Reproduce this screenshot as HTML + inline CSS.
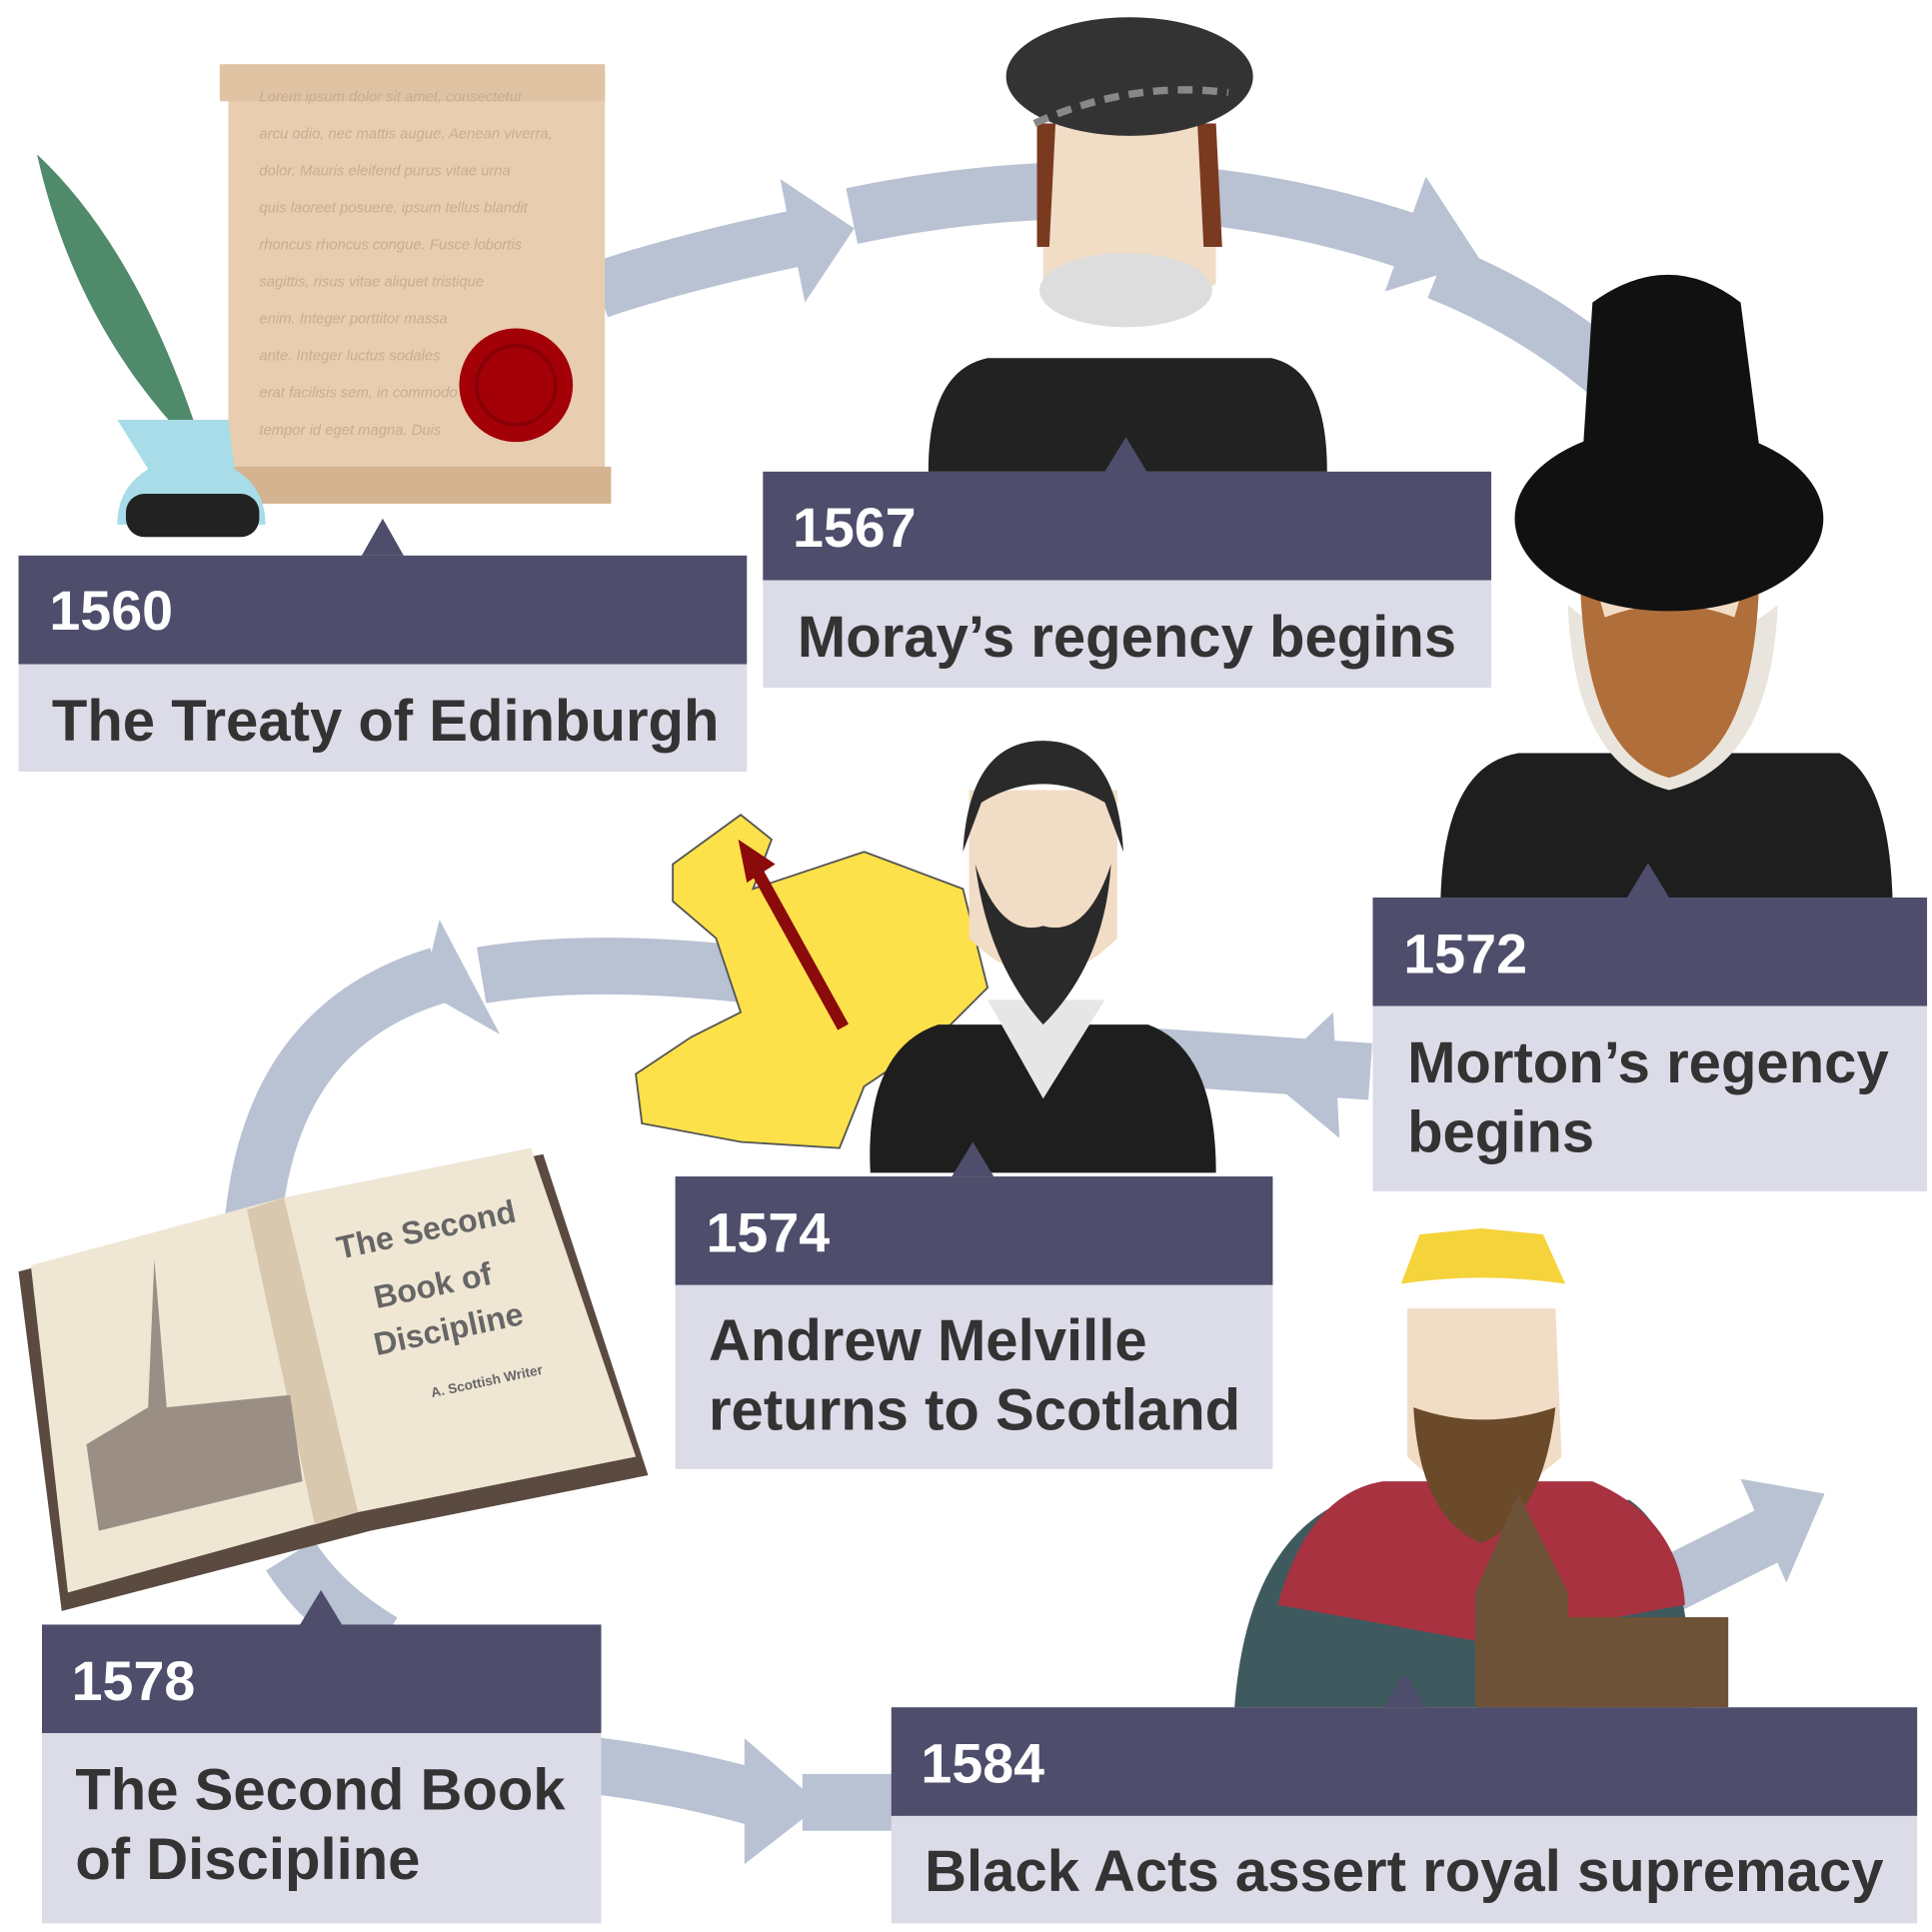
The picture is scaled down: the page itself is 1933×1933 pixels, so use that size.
<!DOCTYPE html>
<html><head><meta charset="utf-8"><style>
html,body{margin:0;padding:0;background:#fff}
svg{display:block}
text{font-family:"Liberation Sans",Arial,sans-serif;font-weight:bold}
.y{fill:#fff;font-size:45px}
.b{fill:#333;font-size:47px}
</style></head><body>
<svg width="1933" height="1933" viewBox="0 0 1565 1565" xmlns="http://www.w3.org/2000/svg">
<g fill="none" stroke="#b8c2d3" stroke-width="46">
<path d="M485 235 Q560 210 660 190"/>
<path d="M690 175 Q930 125 1140 195"/>
<path d="M1165 220 Q1240 250 1300 300"/>
<path d="M1110 868 L920 855"/>
<path d="M610 790 Q480 775 390 790"/>
<path d="M355 790 Q220 830 205 990"/>
<path d="M235 1260 Q260 1300 310 1330"/>
<path d="M480 1430 Q560 1440 625 1460"/>
<path d="M650 1460 L730 1460"/>
<path d="M1340 1290 L1440 1240"/>
</g>
<g fill="#b8c2d3">
<polygon points="632,145 692,185 652,245"/>
<polygon points="1155,143 1200,212 1122,236"/>
<polygon points="1080,820 1025,872 1085,922"/>
<polygon points="356,745 342,802 405,838"/>
<polygon points="603,1408 665,1462 603,1510"/>
<polygon points="1410,1198 1478,1210 1447,1282"/>
</g>
<rect x="185" y="55" width="305" height="350" fill="#e8cdb0"/>
<rect x="180" y="378" width="315" height="30" fill="#d4b390"/>
<rect x="178" y="52" width="312" height="30" fill="#e0c3a3"/>
<g fill="#c9ad90" font-size="12" style="font-family:'Liberation Serif',serif;font-style:italic;font-weight:normal">
<text x="210" y="82" style="font-weight:normal">Lorem ipsum dolor sit amet, consectetur</text>
<text x="210" y="112" style="font-weight:normal">arcu odio, nec mattis augue. Aenean viverra,</text>
<text x="210" y="142" style="font-weight:normal">dolor. Mauris eleifend purus vitae urna</text>
<text x="210" y="172" style="font-weight:normal">quis laoreet posuere, ipsum tellus blandit</text>
<text x="210" y="202" style="font-weight:normal">rhoncus rhoncus congue. Fusce lobortis</text>
<text x="210" y="232" style="font-weight:normal">sagittis, risus vitae aliquet tristique</text>
<text x="210" y="262" style="font-weight:normal">enim. Integer porttitor massa</text>
<text x="210" y="292" style="font-weight:normal">ante. Integer luctus sodales</text>
<text x="210" y="322" style="font-weight:normal">erat facilisis sem, in commodo</text>
<text x="210" y="352" style="font-weight:normal">tempor id eget magna. Duis</text>
</g>
<circle cx="418" cy="312" r="46" fill="#a30008"/>
<circle cx="418" cy="312" r="32" fill="none" stroke="#880006" stroke-width="3"/>
<path d="M30 125 Q110 200 160 350 L150 355 Q60 260 30 125Z" fill="#4f8a6a"/>
<path d="M95 340 L185 340 L190 380 Q215 395 215 425 L95 425 Q95 395 120 380Z" fill="#a7dce8"/>
<rect x="102" y="400" width="108" height="35" rx="15" fill="#222"/>
<!-- Moray -->
<path d="M752 382 Q752 300 800 290 L1030 290 Q1075 300 1075 382Z" fill="#222"/>
<path d="M845 100 L985 100 L985 230 Q912 270 845 230Z" fill="#f1dcc6"/>
<path d="M840 100 L855 100 L850 200 L840 200Z M970 100 L985 100 L990 200 L975 200Z" fill="#7a3a20"/>
<ellipse cx="912" cy="235" rx="70" ry="30" fill="#ddd"/>
<ellipse cx="915" cy="62" rx="100" ry="48" fill="#333"/>
<path d="M838 100 Q915 65 995 75" stroke="#888" stroke-width="6" fill="none" stroke-dasharray="12 8"/>
<!-- Morton -->
<path d="M1167 727 Q1170 620 1230 610 L1490 610 Q1530 630 1533 727Z" fill="#1e1e1e"/>
<path d="M1285 360 L1420 360 L1420 520 Q1352 570 1285 520Z" fill="#f1dcc6"/>
<path d="M1270 490 Q1275 620 1352 640 Q1435 620 1440 490 Q1352 560 1270 490Z" fill="#eae5dc"/>
<path d="M1280 430 L1300 500 Q1352 480 1405 500 L1425 430 Q1430 610 1352 630 Q1275 610 1280 430Z" fill="#b06e3a"/>
<ellipse cx="1352" cy="420" rx="125" ry="75" fill="#111"/>
<path d="M1290 245 Q1352 200 1410 245 L1430 400 L1280 400Z" fill="#111"/>
<!-- map -->
<path d="M545 700 L600 660 L625 680 L610 720 L700 690 L780 720 L800 800 L760 840 L700 880 L680 930 L600 925 L520 910 L515 870 L560 840 L600 820 L580 760 L545 730Z" fill="#fde14a" stroke="#555" stroke-width="1.5"/>
<line x1="683" y1="832" x2="610" y2="700" stroke="#8b0a0a" stroke-width="10"/>
<polygon points="598,680 628,700 605,715" fill="#8b0a0a"/>
<!-- Melville -->
<path d="M705 950 Q700 850 760 830 L930 830 Q985 850 985 950Z" fill="#1e1e1e"/>
<path d="M800 810 L895 810 L845 890Z" fill="#e6e6e6"/>
<path d="M785 640 L905 640 L905 760 Q845 820 785 760Z" fill="#f1dcc6"/>
<path d="M790 700 Q800 780 845 830 Q895 780 900 700 Q880 760 845 750 Q810 760 790 700Z" fill="#2a2a2a"/>
<path d="M780 690 Q785 600 845 600 Q905 600 910 690 L895 650 Q845 620 795 650Z" fill="#2a2a2a"/>
<!-- book -->
<path d="M15 1030 L230 975 L440 935 L525 1195 L300 1240 L50 1305Z" fill="#5a4a3f"/>
<path d="M25 1025 L230 970 L430 930 L515 1180 L290 1225 L55 1290Z" fill="#efe6d4"/>
<path d="M200 980 L230 970 L290 1225 L255 1235Z" fill="#d8c8ae"/>
<path d="M70 1170 L120 1140 L125 1020 L135 1140 L235 1130 L245 1200 L80 1240Z" fill="#9b8f85"/>
<g style="font-family:'Liberation Serif',serif" fill="#666" font-size="26">
<text transform="translate(275,1020) rotate(-12)">The Second</text>
<text transform="translate(305,1060) rotate(-12)">Book of</text>
<text transform="translate(305,1098) rotate(-12)">Discipline</text>
<text transform="translate(350,1132) rotate(-12)" font-size="11" font-weight="normal">A. Scottish Writer</text>
</g>
<!-- king -->
<path d="M1000 1383 Q1010 1250 1090 1215 L1320 1215 Q1370 1250 1370 1383Z" fill="#3e5a5e"/>
<path d="M1035 1300 Q1060 1210 1120 1200 L1290 1200 Q1360 1230 1365 1300 L1200 1330Z" fill="#a83240"/>
<path d="M1140 1060 L1260 1060 L1265 1180 Q1200 1240 1140 1180Z" fill="#f1dcc6"/>
<path d="M1145 1140 Q1200 1160 1260 1140 Q1250 1230 1200 1250 Q1150 1230 1145 1140Z" fill="#6b4a2a"/>
<path d="M1135 1040 L1150 1000 L1200 995 L1250 1000 L1268 1040 Q1200 1030 1135 1040Z" fill="#f5d33a"/>
<path d="M1195 1290 L1230 1210 L1270 1290 L1270 1383 L1195 1383Z" fill="#6e5238"/>
<rect x="1270" y="1310" width="130" height="73" fill="#6e5238"/>
<!-- boxes -->
<g fill="#4e4d6b">
<rect x="15" y="450" width="590" height="88"/><polygon points="293,450 310,420 327,450"/>
<rect x="618" y="382" width="590" height="88"/><polygon points="895,382 912,354 929,382"/>
<rect x="1112" y="727" width="449" height="88"/><polygon points="1318,727 1335,699 1352,727"/>
<rect x="547" y="953" width="484" height="88"/><polygon points="771,953 788,925 805,953"/>
<rect x="34" y="1316" width="453" height="88"/><polygon points="243,1316 260,1288 277,1316"/>
<rect x="722" y="1383" width="831" height="88"/><polygon points="1121,1383 1138,1355 1155,1383"/>
</g>
<g fill="#dcdbe8">
<rect x="15" y="538" width="590" height="87"/>
<rect x="618" y="470" width="590" height="87"/>
<rect x="1112" y="815" width="449" height="150"/>
<rect x="547" y="1041" width="484" height="149"/>
<rect x="34" y="1404" width="453" height="154"/>
<rect x="722" y="1471" width="831" height="87"/>
</g>
<text class="y" x="40" y="510">1560</text>
<text class="b" x="42" y="600">The Treaty of Edinburgh</text>
<text class="y" x="642" y="443">1567</text>
<text class="b" x="646" y="532">Moray’s regency begins</text>
<text class="y" x="1137" y="788">1572</text>
<text class="b" x="1140" y="877">Morton’s regency</text>
<text class="b" x="1140" y="933">begins</text>
<text class="y" x="572" y="1014">1574</text>
<text class="b" x="574" y="1102">Andrew Melville</text>
<text class="b" x="574" y="1158">returns to Scotland</text>
<text class="y" x="58" y="1377">1578</text>
<text class="b" x="61" y="1466">The Second Book</text>
<text class="b" x="61" y="1522">of Discipline</text>
<text class="y" x="746" y="1444">1584</text>
<text class="b" x="749" y="1532">Black Acts assert royal supremacy</text>
</svg>
</body></html>
